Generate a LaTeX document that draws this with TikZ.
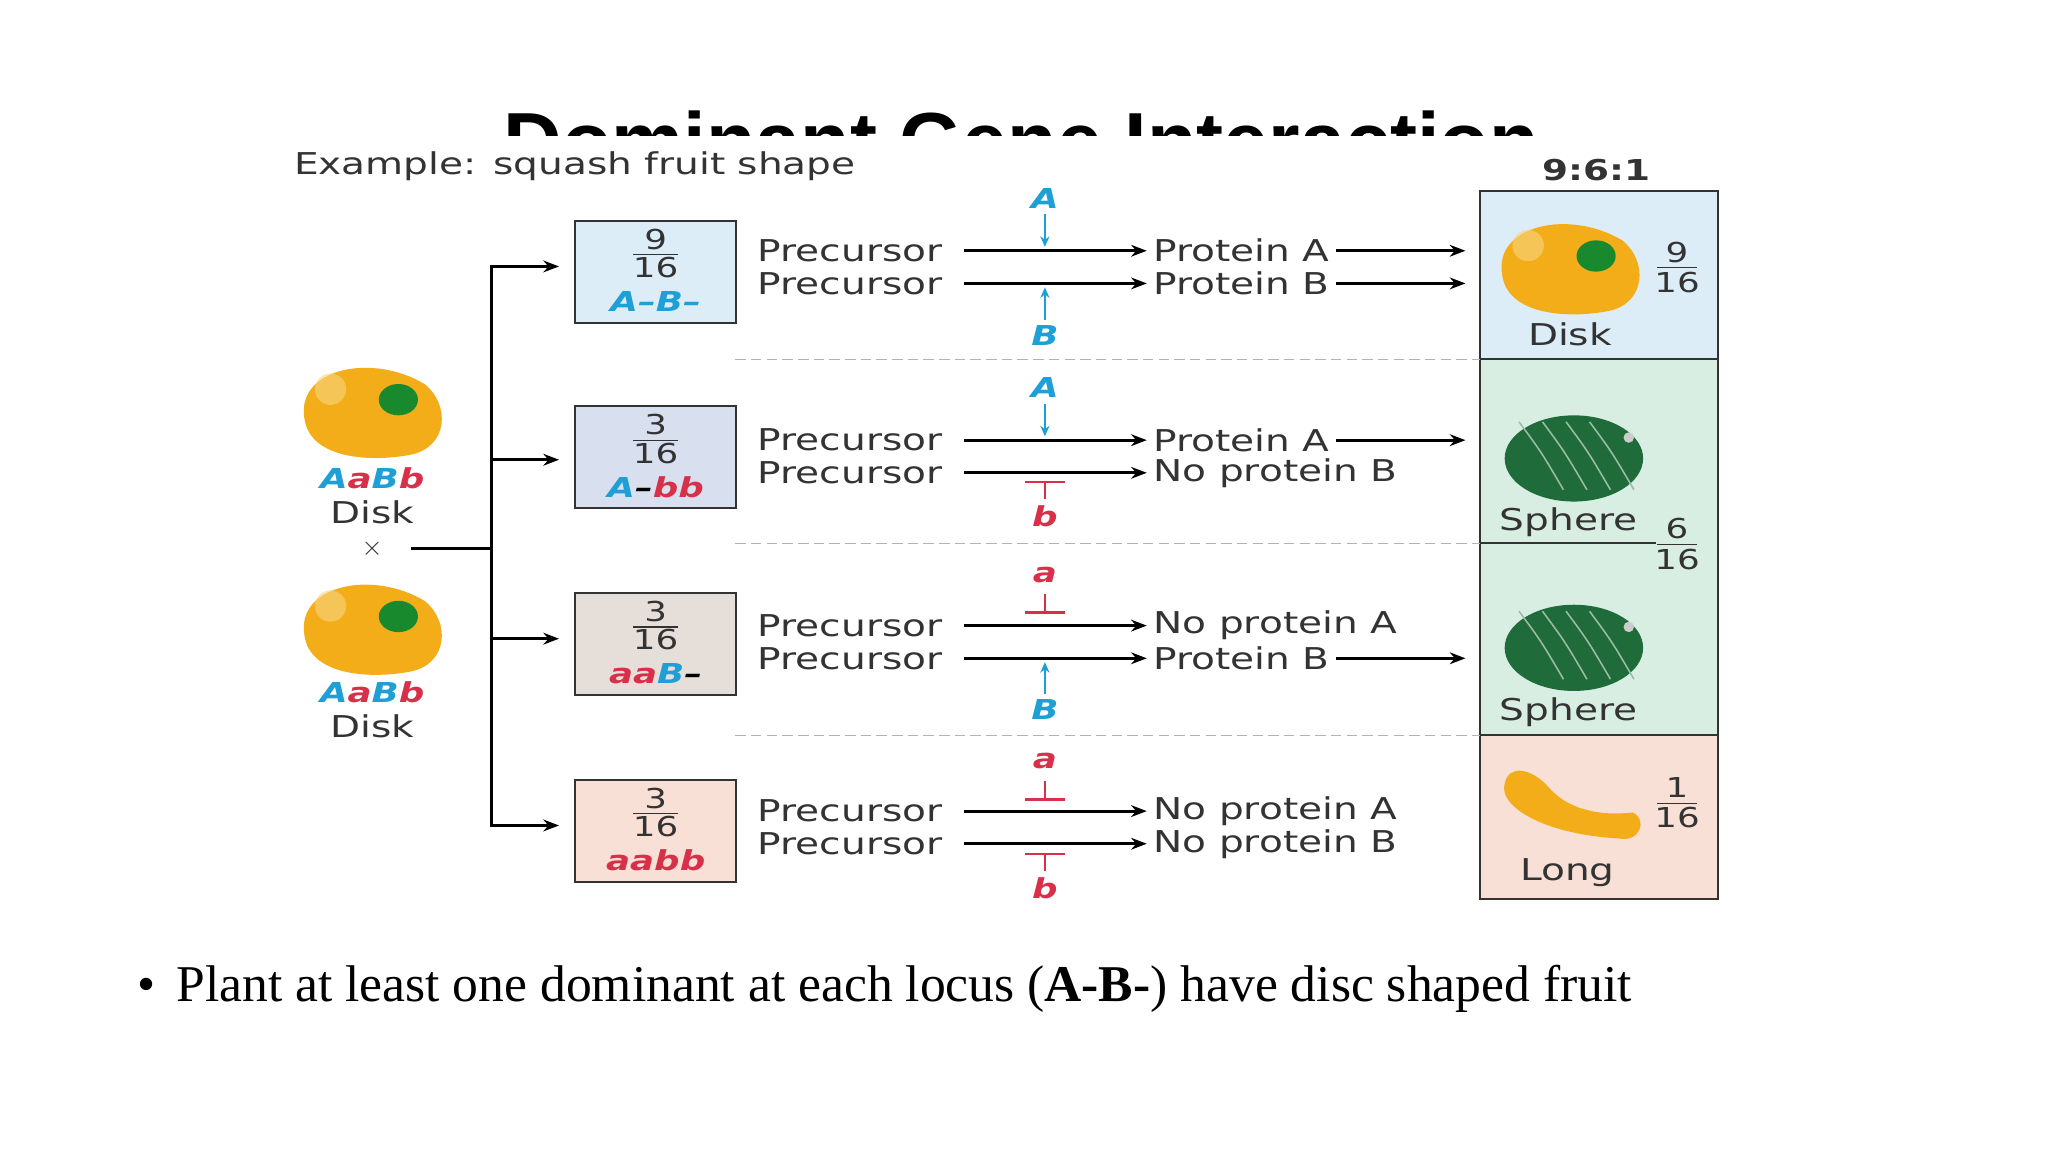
\documentclass[tikz,border=0pt]{standalone}
\usepackage{fontspec}
\setmainfont{DejaVu Sans}[FakeStretch=1.3]
\newfontfamily\serifx{Liberation Serif}
\newfontfamily\titlef{Liberation Sans}
\usetikzlibrary{arrows.meta}
\definecolor{cy}{HTML}{1E9FD6}
\definecolor{rd}{HTML}{D9304A}
\definecolor{bxA}{HTML}{DCEDF8}
\definecolor{bxB}{HTML}{D8E0F0}
\definecolor{bxC}{HTML}{E6DED8}
\definecolor{bxD}{HTML}{F9E0D6}
\definecolor{grn}{HTML}{D8EEE3}
\definecolor{txt}{HTML}{333333}
\definecolor{yel}{HTML}{F2B21C}
\definecolor{sph}{HTML}{1F6B3A}
\tikzset{
 fs/.style={font=\fontsize{#1}{#1}\selectfont},
 lbl/.style={fs=23,text=txt,inner sep=0},
 gbox/.style={draw=txt,line width=1.4,minimum width=123,minimum height=78,inner sep=0},
 arr/.style={-{Stealth[length=12,width=9]},line width=2.2,black},
 dsh/.style={gray!60,dash pattern=on 8 off 4,line width=1},
 gene/.style={inner sep=0,font=\itshape\bfseries\fontsize{21}{21}\selectfont},
 yfruit/.pic={\fill[yel!90!orange] (-52,8) .. controls (-58,-30) and (0,-42) .. (40,-18) .. controls (60,-2) and (58,30) .. (30,36) .. controls (0,42) and (-48,40) .. (-52,8) -- cycle;
   \fill[yel!55!white,opacity=.6] (-32,-14) ellipse (12 and 12);
   \fill[sph!80!green] (20,-6) ellipse (15 and 12);},
 gfruit/.pic={\fill[sph] (0,0) ellipse (53 and 33);
   \foreach \o in {-30,-12,6,24}{\draw[white!55!sph,line width=1.2] (\o-12,-28) .. controls (\o+5,-5) .. (\o+22,24);}
   \fill[gray!40] (42,-16) circle (4);}
}
\begin{document}
\begin{tikzpicture}[x=1pt,y=-1pt]
\useasboundingbox (0,0) rectangle (1568,882);
\fill[white] (0,0) rectangle (1568,882);
% clipped title
\begin{scope}
\clip (0,0) rectangle (1568,104);
\node[font=\titlef\bfseries\fontsize{62}{62}\selectfont,anchor=base,inner sep=0] (title) at (782,130) {Dominant Gene Interaction};
\end{scope}
\node[lbl,anchor=west] (ex) at (225,127) {Example: squash fruit shape};
\node[lbl,font=\bfseries\fontsize{22}{22}\selectfont] (ratio) at (1222,130) {9:6:1};
% right column
\fill[bxA] (1133,146) rectangle (1315,275);
\fill[grn] (1133,275) rectangle (1315,563);
\fill[bxD] (1133,563) rectangle (1315,688);
\draw[txt,line width=1.6] (1133,146) rectangle (1315,688);
\draw[txt,line width=1.6] (1133,275) -- (1315,275) (1133,563) -- (1315,563) (1133,416) -- (1268,416);
% dashed separators
\foreach \y in {275,416,563} \draw[dsh] (563,\y) -- (1133,\y);
% genotype boxes
\node[gbox,fill=bxA] (g1) at (502,208) {};
\node[gbox,fill=bxB] (g2) at (502,350) {};
\node[gbox,fill=bxC] (g3) at (502,493) {};
\node[gbox,fill=bxD] (g4) at (502,636) {};
\foreach \g/\n in {g1/9,g2/3,g3/3,g4/3}{
 \node[lbl,fs=21] (\g n) at ([yshift=25]\g) {\n};
 \draw[txt,line width=1] ([xshift=-17,yshift=13]\g.center) -- ([xshift=17,yshift=13]\g.center);
 \node[lbl,fs=21] (\g d) at ([yshift=3]\g) {16};}
\node[gene,text=cy] (g1t) at ([yshift=-23]g1) {A--B--};
\node[gene] (g2t) at ([yshift=-23]g2) {\textcolor{cy}{A}--\textcolor{rd}{bb}};
\node[gene] (g3t) at ([yshift=-23]g3) {\textcolor{rd}{aa}\textcolor{cy}{B}--};
\node[gene,text=rd] (g4t) at ([yshift=-23]g4) {aabb};
% pathways
\newcommand{\pathrow}[4]{%
 \node[lbl,anchor=west] (p#1) at (580,#2) {Precursor};
 \coordinate (s#1) at (738,#2);
 \node[lbl,anchor=west] (q#1) at (883,#2) {#3};
 \draw[arr] (s#1) -- ([xshift=-5]q#1.west);
 #4}
\pathrow{1}{192}{Protein A}{\coordinate (e1) at (1122,192);\draw[arr] ([xshift=5]q1.east) -- (e1);}
\pathrow{2}{217}{Protein B}{\coordinate (e2) at (1122,217);\draw[arr] ([xshift=5]q2.east) -- (e2);}
\pathrow{3}{337}{Protein A}{\coordinate (e3) at (1122,337);\draw[arr] ([xshift=5]q3.east) -- (e3);}
\pathrow{4}{362}{No protein B}{}
\pathrow{5}{479}{No protein A}{}
\pathrow{6}{504}{Protein B}{\coordinate (e6) at (1122,504);\draw[arr] ([xshift=5]q6.east) -- (e6);}
\pathrow{7}{621}{No protein A}{}
\pathrow{8}{646}{No protein B}{}
% gene arrows
\tikzset{garr/.style={-{Stealth[length=8,width=7]},line width=1.8,cy}}
\node[gene,text=cy] (A1) at (800,152) {A};
\draw[garr] (800,164) -- (800,189);
\node[gene,text=cy] (B1) at (800,257) {B};
\draw[garr] (800,245) -- (800,220);
\node[gene,text=cy] (A2) at (800,297) {A};
\draw[garr] (800,309) -- (800,334);
\node[gene,text=cy] (B3) at (800,543) {B};
\draw[garr] (800,531) -- (800,507);
% blocks
\tikzset{blk/.style={rd,line width=1.8}}
\foreach \n/\y in {a1/440,a2/583}{
 \node[gene,text=rd] (\n) at (800,\y) {a};
 \draw[blk] (800,\y+15) -- (800,\y+29) (785,\y+29) -- (815,\y+29);}
\foreach \n/\y in {b1/395,b2/680}{
 \node[gene,text=rd] (\n) at (800,\y) {b};
 \draw[blk] (800,\y-13) -- (800,\y-26) (785,\y-26) -- (815,\y-26);}
% left parents
\pic at (285,312) {yfruit};
\pic at (285,478) {yfruit};
\node[gene] (p1g) at (285,366) {\textcolor{cy}{A}\textcolor{rd}{a}\textcolor{cy}{B}\textcolor{rd}{b}};
\node[lbl] (p1d) at (285,392) {Disk};
\node[gene] (p2g) at (285,530) {\textcolor{cy}{A}\textcolor{rd}{a}\textcolor{cy}{B}\textcolor{rd}{b}};
\node[lbl] (p2d) at (285,556) {Disk};
\node[lbl,fs=22] (x) at (285,420) {$\times$};
\coordinate (j) at (376,420);
\draw[line width=2.2] (315,420) -- (j);
\draw[line width=2.2] (376,204) -- (376,632);
\draw[arr] (375,204) -- (428,204);
\draw[arr] (375,352) -- (428,352);
\draw[arr] (375,489) -- (428,489);
\draw[arr] (375,632) -- (428,632);
% right fruits
\pic at (1202,202) {yfruit};
\pic at (1205,351) {gfruit};
\pic at (1205,496) {gfruit};
\fill[yel!90!orange] (1152,600) .. controls (1155,585) and (1172,588) .. (1185,602) .. controls (1200,620) and (1225,625) .. (1250,622) .. controls (1262,628) and (1255,645) .. (1240,642) .. controls (1205,640) and (1180,632) .. (1165,622) .. controls (1155,615) and (1150,608) .. (1152,600) -- cycle;
\node[lbl] (rd1) at (1202,256) {Disk};
\node[lbl] (rs1) at (1201,400) {Sphere};
\node[lbl] (rs2) at (1201,545) {Sphere};
\node[lbl] (rl) at (1200,668) {Long};
\foreach \n/\x/\y/\t in {f1/1284/205/9,f2/1284/417/6,f3/1284/615/1}{
 \node[lbl,fs=21] (\n n) at (\x,\y-12) {\t};
 \draw[txt,line width=1] (\x-15,\y) -- (\x+15,\y);
 \node[lbl,fs=21] (\n d) at (\x,\y+11) {16};}
% bullet
\node[anchor=west,inner sep=0,font=\serifx\fontsize{39.5}{40}\selectfont] (bul) at (105,757) {\textbullet\hspace{16pt}Plant at least one dominant at each locus (\textbf{A-B-}) have disc shaped fruit};
\end{tikzpicture}
\end{document}
